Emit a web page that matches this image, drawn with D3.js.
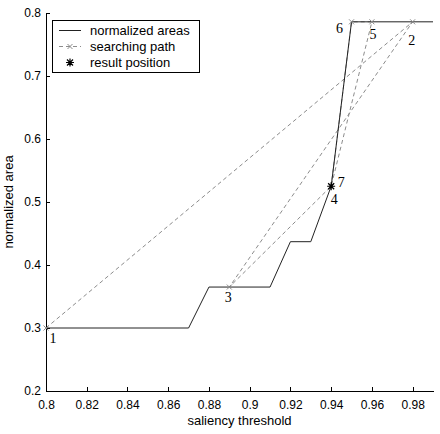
<!DOCTYPE html>
<html>
<head>
<meta charset="utf-8">
<script src="https://cdn.jsdelivr.net/npm/d3@7"></script>
<style>
  body { margin: 0; background: #fff; }
  svg { display: block; font-family: "Liberation Sans", Arial, sans-serif; }
  .axis path, .axis line { stroke: #000; shape-rendering: crispEdges; }
  .axis text { font-size: 12px; fill: #000; }
</style>
</head>
<body>
<svg id="chart"></svg>
<script>
// normalized areas curve
const areaX = [0.8, 0.87, 0.88, 0.91, 0.92, 0.93, 0.94, 0.95, 0.99];
const areaY = [0.30, 0.30, 0.365, 0.365, 0.437, 0.437, 0.525, 0.786, 0.786];

// searching path, in visiting order
const pathX = [0.8, 0.98, 0.89, 0.94, 0.96, 0.95, 0.94];
const pathY = [0.30, 0.786, 0.365, 0.525, 0.786, 0.786, 0.525];
const stepLabels = ["1", "2", "3", "4", "5", "6", "7"];

// result position
const resultX = [0.94];
const resultY = [0.525];

const xTicks = [0.8, 0.82, 0.84, 0.86, 0.88, 0.9, 0.92, 0.94, 0.96, 0.98];
const yTicks = [0.2, 0.3, 0.4, 0.5, 0.6, 0.7, 0.8];
const legendLabels = ["normalized areas", "searching path", "result position"];

const width = 440, height = 434;
const margin = {top: 13, right: 7, bottom: 43, left: 46};
const w = width - margin.left - margin.right;
const h = height - margin.top - margin.bottom;

const svg = d3.select('#chart')
    .attr('width', width)
    .attr('height', height);

const chart = svg.append('g')
    .attr('transform', `translate(${margin.left},${margin.top})`);

const x = d3.scaleLinear().domain([0.8, 0.99]).range([0, w]);
const y = d3.scaleLinear().domain([0.2, 0.8]).range([h, 0]);

// axes, ticks pointing inside
chart.append('g')
    .attr('class', 'axis')
    .attr('transform', `translate(0,${h})`)
    .call(d3.axisBottom(x).tickValues(xTicks).tickSizeInner(-4).tickSizeOuter(0)
        .tickPadding(9).tickFormat(d => String(+d.toFixed(2))));

chart.append('g')
    .attr('class', 'axis')
    .call(d3.axisLeft(y).tickValues(yTicks).tickSizeInner(-4).tickSizeOuter(0)
        .tickPadding(5).tickFormat(d3.format('.1f')));

chart.selectAll('.axis text').style('font-size', '12px');

// axis titles
svg.append('text')
    .attr('x', margin.left + w / 2)
    .attr('y', 425)
    .attr('text-anchor', 'middle')
    .style('font-size', '13px')
    .text('saliency threshold');

svg.append('text')
    .attr('transform', `translate(13,${margin.top + h / 2}) rotate(-90)`)
    .attr('text-anchor', 'middle')
    .style('font-size', '13px')
    .text('normalized area');

const line = d3.line().x(d => x(d[0])).y(d => y(d[1]));

// searching path (dashed)
const pathPts = pathX.map((v, i) => [v, pathY[i]]);
chart.append('path')
    .datum(pathPts)
    .attr('d', line)
    .attr('fill', 'none')
    .attr('stroke', '#8c8c8c')
    .attr('stroke-width', 1)
    .attr('stroke-dasharray', '4,3');

// normalized areas (solid)
chart.append('path')
    .datum(areaX.map((v, i) => [v, areaY[i]]))
    .attr('d', line)
    .attr('fill', 'none')
    .attr('stroke', '#222')
    .attr('stroke-width', 1);

// x markers on the search path
function xMark(sel, s) {
    return `M${-s},${-s}L${s},${s}M${-s},${s}L${s},${-s}`;
}
chart.selectAll('.pmark')
    .data(pathPts)
    .join('path')
    .attr('class', 'pmark')
    .attr('transform', d => `translate(${x(d[0])},${y(d[1])})`)
    .attr('d', xMark(null, 2.5))
    .attr('stroke', '#8c8c8c')
    .attr('fill', 'none');

// star marker
const starD = 'M-4,0L4,0M0,-4L0,4M-3,-3L3,3M-3,3L3,-3';
chart.selectAll('.star')
    .data(resultX.map((v, i) => [v, resultY[i]]))
    .join('path')
    .attr('class', 'star')
    .attr('transform', d => `translate(${x(d[0])},${y(d[1])})`)
    .attr('d', starD)
    .attr('stroke', '#000')
    .attr('stroke-width', 1.2);

// step numbers
const labelOffsets = [[7, 10], [-1, 19], [-1, 10], [3, 13], [1, 13], [-12, 7], [10, -4]];
chart.selectAll('.step')
    .data(pathPts)
    .join('text')
    .attr('class', 'step')
    .attr('x', (d, i) => x(d[0]) + labelOffsets[i][0])
    .attr('y', (d, i) => y(d[1]) + labelOffsets[i][1])
    .attr('text-anchor', 'middle')
    .attr('dominant-baseline', 'central')
    .style('font-family', '"Liberation Serif", "Times New Roman", serif')
    .style('font-size', '14px')
    .text((d, i) => stepLabels[i]);

// legend
const legend = svg.append('g').attr('transform', 'translate(52,20)');
legend.append('rect')
    .attr('x', 0.5).attr('y', 0.5)
    .attr('width', 147).attr('height', 52)
    .attr('fill', '#fff')
    .attr('stroke', '#000');

const rows = legend.selectAll('.row')
    .data(legendLabels)
    .join('g')
    .attr('transform', (d, i) => `translate(0,${10.5 + i * 16})`);

rows.append('text')
    .attr('x', 38)
    .attr('dy', '0.35em')
    .style('font-size', '13px')
    .text(d => d);

rows.filter((d, i) => i === 0).append('line')
    .attr('x1', 7).attr('x2', 29)
    .attr('stroke', '#222');

const r2 = rows.filter((d, i) => i === 1);
r2.append('line')
    .attr('x1', 7).attr('x2', 29)
    .attr('stroke', '#8c8c8c')
    .attr('stroke-dasharray', '4,3');
r2.append('path')
    .attr('transform', 'translate(18,0)')
    .attr('d', xMark(null, 2.5))
    .attr('stroke', '#8c8c8c');

rows.filter((d, i) => i === 2).append('path')
    .attr('transform', 'translate(18,0)')
    .attr('d', starD)
    .attr('stroke', '#000')
    .attr('stroke-width', 1.2);
</script>
</body>
</html>
